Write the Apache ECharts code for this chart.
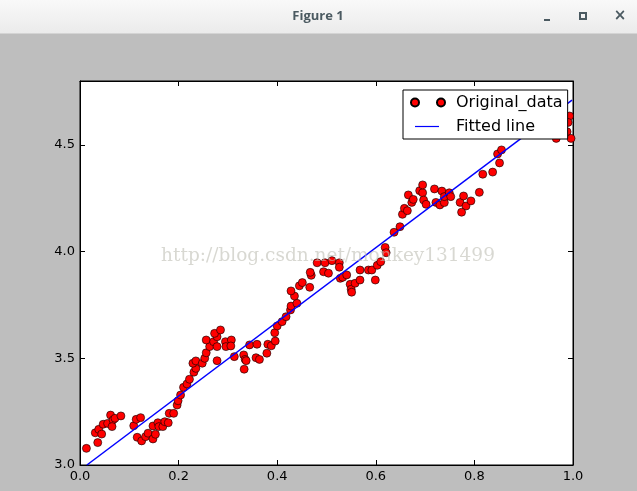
<!DOCTYPE html>
<html><head><meta charset="utf-8">
<script src="https://cdn.jsdelivr.net/npm/echarts@6/dist/echarts.min.js"></script>
<style>html,body{margin:0;padding:0;background:#bebebe;overflow:hidden;}#c{width:637px;height:491px;}</style>
</head><body><div id="c"></div>
<script>
// Original data
const dataX = [0.013,0.031,0.036,0.038,0.044,0.047,0.056,0.062,0.067,0.071,0.065,0.083,
0.109,0.114,0.123,0.116,0.125,0.133,0.138,0.148,0.153,0.148,0.158,0.160,0.168,0.172,0.179,0.181,0.190,
0.197,0.199,0.204,0.210,0.217,0.222,0.231,0.235,0.229,0.235,0.248,0.253,0.256,0.263,0.256,0.271,0.278,
0.273,0.285,0.278,0.278,0.295,0.307,0.296,0.306,0.313,0.332,0.335,0.337,0.333,0.344,0.359,0.357,0.364,
0.379,0.381,0.388,0.396,0.395,0.400,0.410,0.418,0.427,0.428,0.440,0.435,0.428,0.445,0.451,0.466,0.469,
0.467,0.481,0.494,0.504,0.497,0.511,0.526,0.526,0.528,0.533,0.541,0.548,0.550,0.551,0.558,0.568,0.568,
0.585,0.592,0.599,0.603,0.610,0.619,0.621,0.637,0.649,0.654,0.658,0.664,0.666,0.673,0.676,0.689,0.695,
0.695,0.697,0.702,0.719,0.722,0.730,0.734,0.739,0.739,0.749,0.752,0.771,0.778,0.783,0.774,0.793,0.810,
0.817,0.837,0.847,0.851,0.855,0.966,0.988,0.996,0.993,0.990];
const dataY = [3.078,3.151,3.105,3.167,3.145,3.191,3.195,3.234,3.211,3.219,3.180,3.230,
3.184,3.214,3.222,3.130,3.113,3.133,3.149,3.122,3.144,3.183,3.198,3.180,3.180,3.203,3.198,3.242,3.242,
3.281,3.301,3.328,3.364,3.380,3.402,3.435,3.453,3.477,3.488,3.477,3.500,3.526,3.555,3.586,3.578,3.601,
3.617,3.633,3.555,3.489,3.578,3.586,3.555,3.558,3.508,3.516,3.495,3.489,3.449,3.563,3.566,3.503,3.495,
3.524,3.566,3.559,3.581,3.620,3.652,3.672,3.695,3.727,3.745,3.758,3.792,3.816,3.840,3.855,3.833,3.889,
3.903,3.948,3.906,3.899,3.948,3.958,3.948,3.927,3.875,3.880,3.891,3.847,3.824,3.810,3.852,3.914,3.867,
3.914,3.914,3.867,3.936,3.953,4.020,3.995,4.091,4.117,4.175,4.203,4.192,4.266,4.231,4.245,4.286,4.276,
4.313,4.242,4.222,4.294,4.231,4.219,4.284,4.230,4.258,4.276,4.258,4.231,4.261,4.214,4.185,4.238,4.278,
4.363,4.373,4.458,4.416,4.477,4.531,4.562,4.531,4.636,4.606];
// Fitted line end points
const fitX = [0.014, 0.998];
const fitY = [3.0, 4.71];
// Axis ticks
const xTicks = [0.0, 0.2, 0.4, 0.6, 0.8, 1.0];
const yTicks = [3.0, 3.5, 4.0, 4.5];
const yMax = 4.8;
const seriesNames = ['Original_data', 'Fitted line'];
const watermark = 'http://blog.csdn.net/monkey131499';
const windowTitle = 'Figure 1';

const chart = echarts.init(document.getElementById('c'), null, {renderer: 'canvas'});
const font = 'DejaVu Sans';
const tickLen = 5;
function xAxisCfg(pos, showLabel) {
  return {
    type: 'value', position: pos, min: xTicks[0], max: xTicks[xTicks.length - 1],
    interval: xTicks[1] - xTicks[0],
    axisLine: {show: true, onZero: false, lineStyle: {color: '#000', width: 1}},
    axisTick: {show: true, inside: true, length: tickLen, lineStyle: {color: '#000', width: 1}},
    axisLabel: {show: showLabel, color: '#000', fontFamily: font, fontSize: 13, margin: 5,
      formatter: v => v.toFixed(1)},
    splitLine: {show: false}
  };
}
function yAxisCfg(pos, showLabel) {
  return {
    type: 'value', position: pos, min: yTicks[0], max: yMax,
    interval: yTicks[1] - yTicks[0],
    axisLine: {show: true, onZero: false, lineStyle: {color: '#000', width: 1}},
    axisTick: {show: true, inside: true, length: tickLen, lineStyle: {color: '#000', width: 1}},
    axisLabel: {show: showLabel, color: '#000', fontFamily: font, fontSize: 13, margin: 5,
      showMaxLabel: false, formatter: v => v.toFixed(1)},
    splitLine: {show: false}
  };
}

const option = {
  backgroundColor: '#bebebe',
  animation: false,
  grid: {left: 80, right: 64, top: 81, bottom: 26, show: true, backgroundColor: '#fff',
    borderColor: '#000', borderWidth: 1},
  xAxis: [xAxisCfg('bottom', true), xAxisCfg('top', false)],
  yAxis: [yAxisCfg('left', true), yAxisCfg('right', false)],
  legend: {
    orient: 'vertical', left: 403, top: 90,
    backgroundColor: '#fff', borderColor: '#000', borderWidth: 1,
    padding: [3, 5, 3, 7], itemGap: 5, itemWidth: 34, itemHeight: 8,
    textStyle: {fontFamily: font, fontSize: 16, color: '#000', lineHeight: 19, padding: [0, 0, 0, 6]},
    data: [
      {name: seriesNames[0], icon: 'path://M0,4a4,4 0 1,0 8,0a4,4 0 1,0 -8,0zM26,4a4,4 0 1,0 8,0a4,4 0 1,0 -8,0z'},
      {name: seriesNames[1], icon: 'path://M0,0L0,0M4,3.4L28,3.4L28,4.6L4,4.6ZM34,8L34,8',
        itemStyle: {color: '#0000ff', borderWidth: 0}}
    ]
  },
  series: [
    {
      name: seriesNames[0], type: 'scatter', symbol: 'circle', symbolSize: 8,
      itemStyle: {color: '#ff0000', borderColor: '#000', borderWidth: 0.6, opacity: 1},
      data: dataX.map((x, i) => [x, dataY[i]]), z: 2
    },
    {
      name: seriesNames[1], type: 'line', symbol: 'none', showSymbol: false,
      lineStyle: {color: '#0000ff', width: 1.5}, itemStyle: {color: '#0000ff'},
      data: fitX.map((x, i) => [x, fitY[i]]), z: 3
    }
  ],
  graphic: [
    {type: 'rect', left: 0, top: 0, z: 10, shape: {width: 637, height: 33},
      style: {fill: new echarts.graphic.LinearGradient(0, 0, 0, 1, [
        {offset: 0, color: '#f9f9f9'}, {offset: 1, color: '#ebebeb'}])}},
    {type: 'rect', left: 0, top: 33, z: 10, shape: {width: 637, height: 1}, style: {fill: '#d4d4d4'}},
    {type: 'text', x: 318, y: 16, z: 11, style: {text: windowTitle, fill: '#4b5a61',
      font: 'bold 13px "Open Sans"', align: 'center', verticalAlign: 'middle'}},
    {type: 'rect', x: 544, y: 19, z: 11, shape: {width: 6, height: 2}, style: {fill: '#4b5a61'}},
    {type: 'rect', x: 580, y: 13, z: 11, shape: {width: 6, height: 6},
      style: {fill: 'none', stroke: '#4b5a61', lineWidth: 2}},
    {type: 'text', x: 620, y: 16, z: 11, style: {text: '×', fill: '#4b5a61',
      font: 'bold 15px "DejaVu Sans"', align: 'center', verticalAlign: 'middle'}},
    {type: 'text', x: 328, y: 256, z: 5, style: {text: watermark, fill: 'rgba(190,190,180,0.6)',
      font: '18.5px "DejaVu Serif"', align: 'center', verticalAlign: 'middle'}}
  ]
};
chart.setOption(option);
</script>
</body></html>
